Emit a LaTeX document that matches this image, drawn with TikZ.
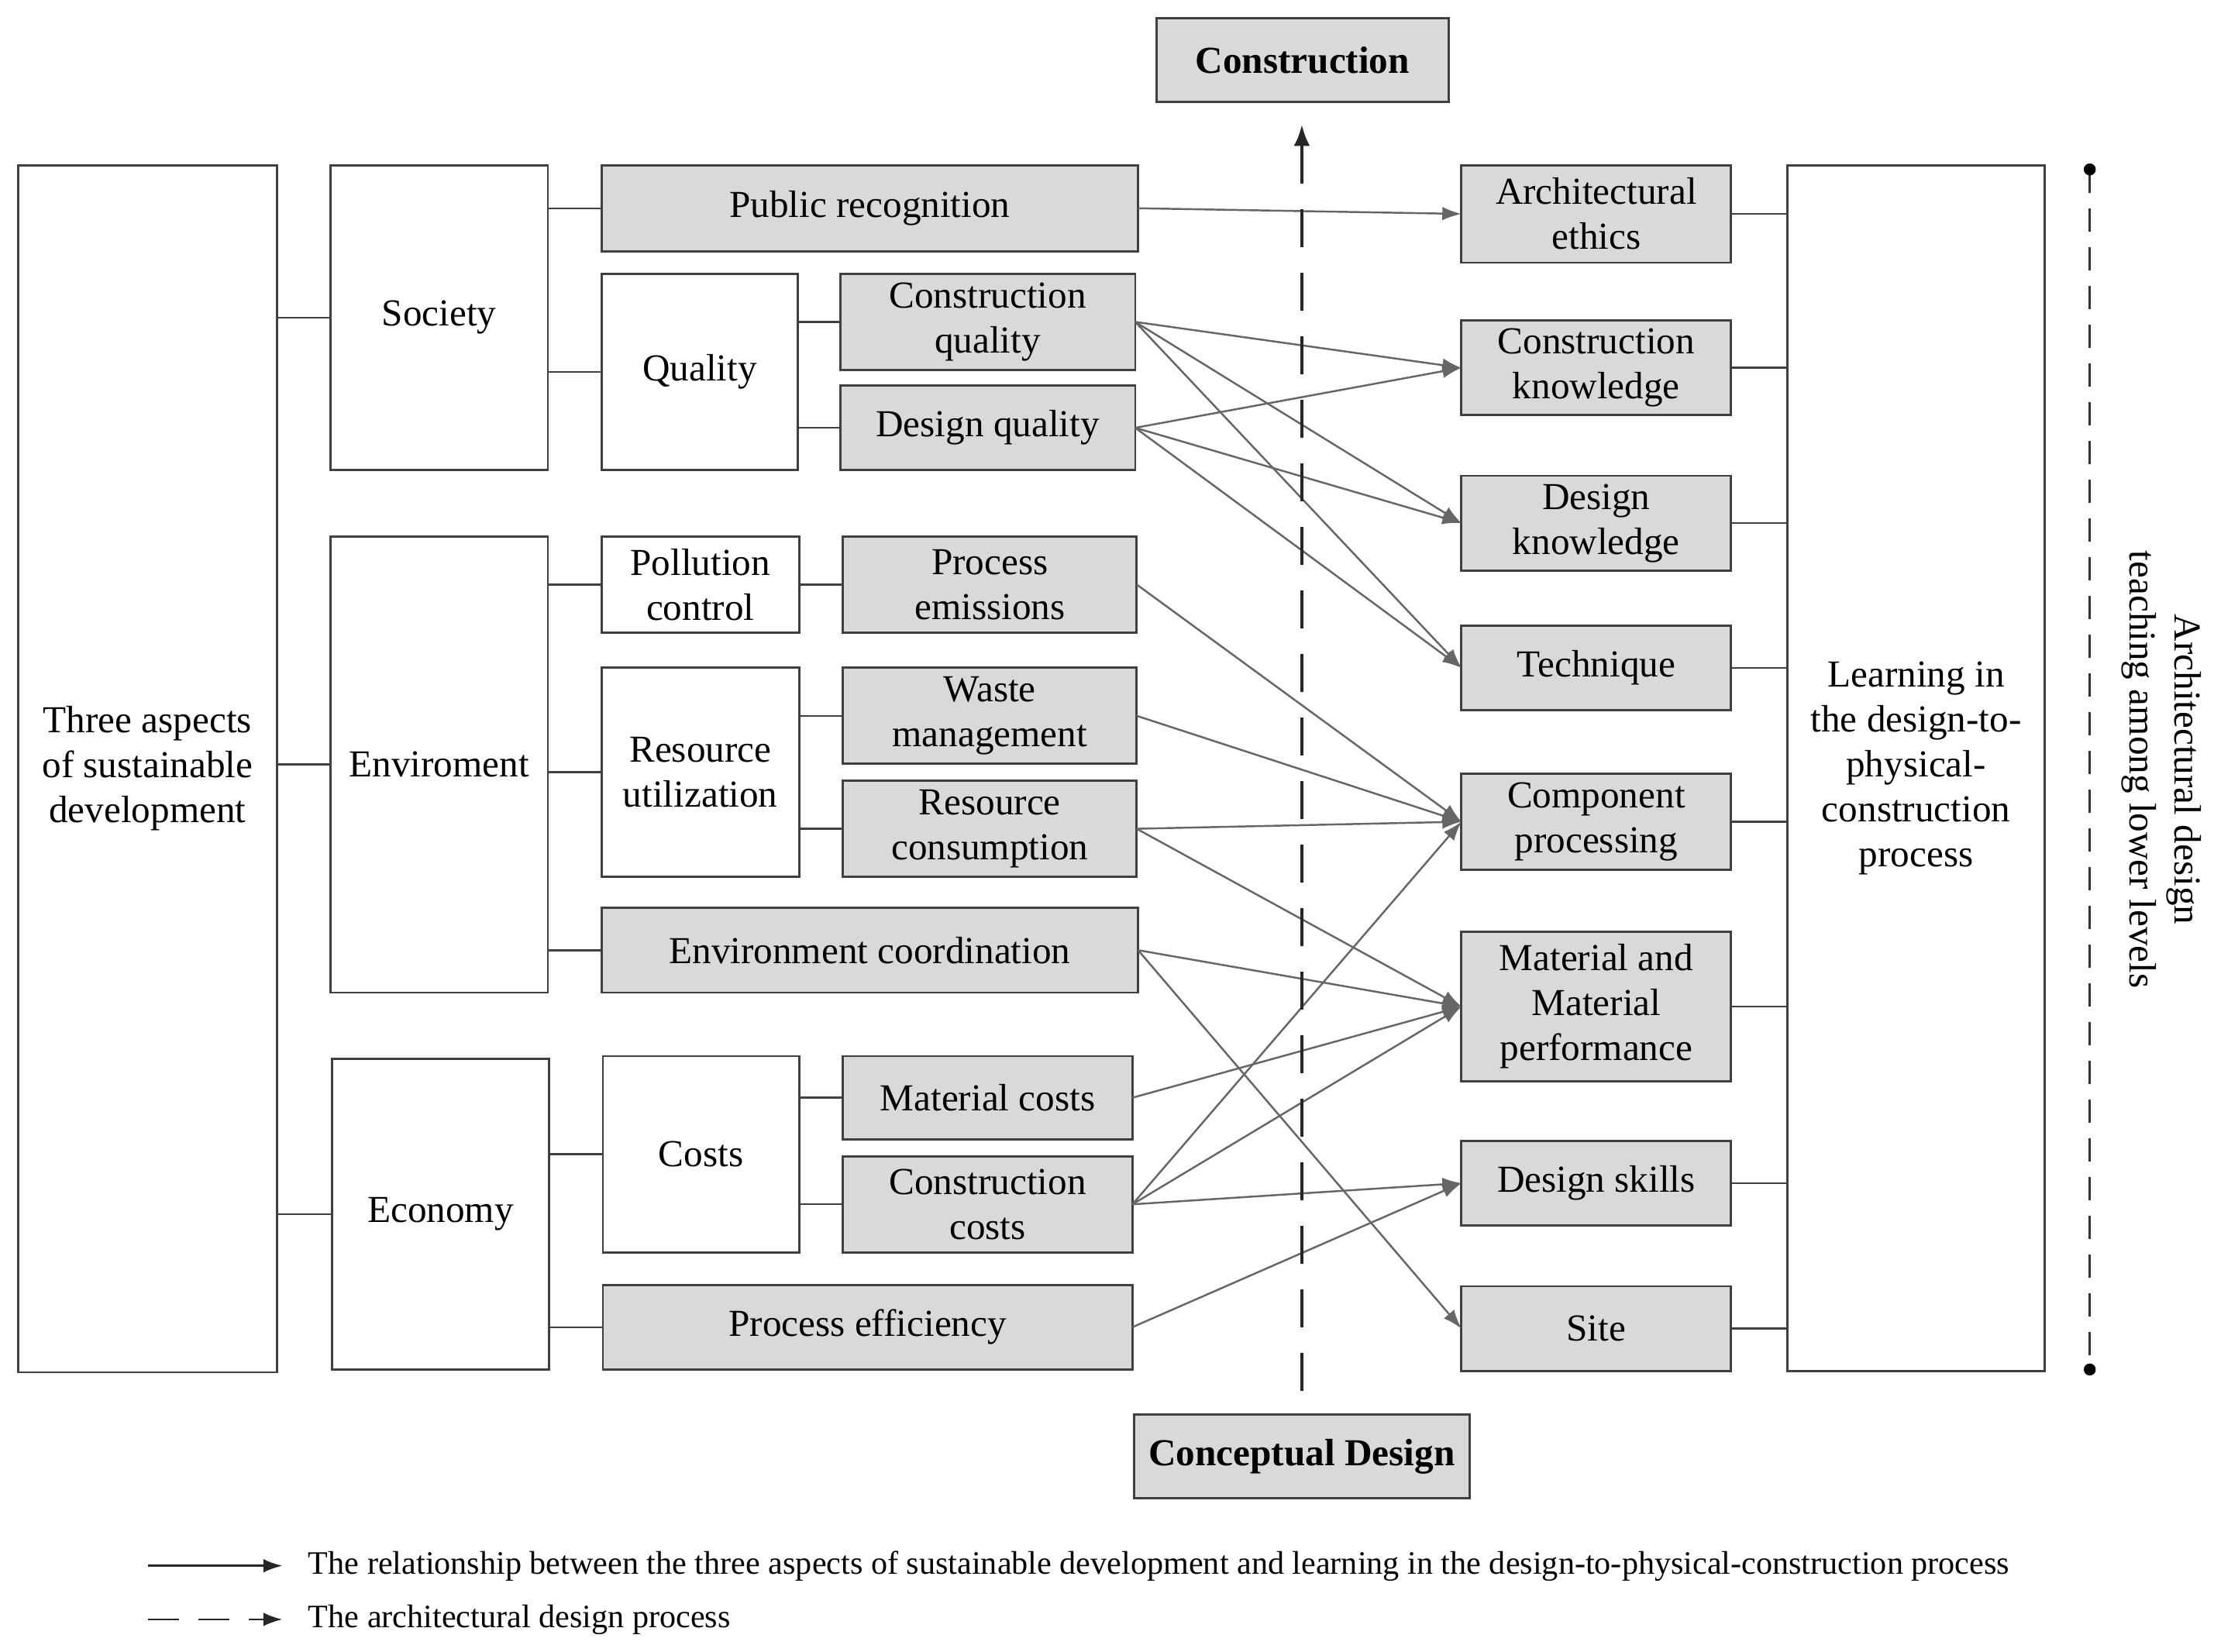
\documentclass[tikz,border=0pt]{standalone}
\usepackage{fontspec}
\setmainfont{Liberation Serif}
\usetikzlibrary{arrows.meta}
\begin{document}
\begin{tikzpicture}[x=0.01822cm,y=-0.01822cm,
  base/.style={draw=black!75,line width=0.8pt,inner sep=0,outer sep=0,align=center,font=\fontsize{14}{16.5}\selectfont},
  wbox/.style={base,fill=white},
  gbox/.style={base,fill=black!15},
  tbox/.style={base,fill=black!15,font=\fontsize{14}{16.5}\selectfont\bfseries},
  tree/.style={draw=black!75,line width=0.7pt},
  rel/.style={draw=black!60,line width=0.7pt,-{Latex[length=7pt,width=5pt]}}]
\newcommand\bx[7]{\node[#2, minimum width={(#5-#3)*0.01822cm}, minimum height={(#6-#4)*0.01822cm}] (#1) at ({(#3+#5)/2},{(#4+#6)/2}) {#7};}
\useasboundingbox[fill=white] (0,0) rectangle (1568,1170);
% left column
\bx{three}{wbox}{13}{117}{196}{972}{Three aspects\\of sustainable\\development}
\bx{soc}{wbox}{234}{117}{388}{333}{Society}
\bx{env}{wbox}{234}{380}{388}{703}{Enviroment}
\bx{eco}{wbox}{235}{750}{389}{970}{Economy}
\bx{pub}{gbox}{426}{117}{806}{178}{Public recognition}
\bx{qual}{wbox}{426}{194}{565}{333}{Quality}
\bx{cq}{gbox}{595}{194}{804}{262}{Construction\\quality}
\bx{dq}{gbox}{595}{273}{804}{333}{Design quality}
\bx{pol}{wbox}{426}{380}{566}{448}{Pollution\\control}
\bx{pe}{gbox}{597}{380}{805}{448}{Process\\emissions}
\bx{ru}{wbox}{426}{473}{566}{621}{Resource\\utilization}
\bx{wm}{gbox}{597}{473}{805}{541}{Waste\\management}
\bx{rc}{gbox}{597}{553}{805}{621}{Resource\\consumption}
\bx{ec}{gbox}{426}{643}{806}{703}{Environment coordination}
\bx{cost}{wbox}{427}{748}{566}{887}{Costs}
\bx{mc}{gbox}{597}{748}{802}{807}{Material costs}
\bx{cc}{gbox}{597}{819}{802}{887}{Construction\\costs}
\bx{pef}{gbox}{427}{910}{802}{970}{Process efficiency}
% titles
\bx{cons}{tbox}{819}{13}{1026}{72}{Construction}
\bx{cd}{tbox}{803}{1002}{1041}{1061}{Conceptual Design}
% right column
\bx{ae}{gbox}{1035}{117}{1226}{186}{Architectural\\ethics}
\bx{ck}{gbox}{1035}{227}{1226}{294}{Construction\\knowledge}
\bx{dk}{gbox}{1035}{337}{1226}{404}{Design\\knowledge}
\bx{tech}{gbox}{1035}{443}{1226}{503}{Technique}
\bx{cp}{gbox}{1035}{548}{1226}{616}{Component\\processing}
\bx{mat}{gbox}{1035}{660}{1226}{766}{Material and\\Material\\performance}
\bx{ds}{gbox}{1035}{808}{1226}{868}{Design skills}
\bx{site}{gbox}{1035}{911}{1226}{971}{Site}
\bx{learn}{wbox}{1266}{117}{1448}{971}{Learning in\\the design-to-\\physical-\\construction\\process}
% tree connectors
\foreach \a/\b in {three/soc,three/env,three/eco,soc/pub,soc/qual,qual/cq,qual/dq,env/pol,env/ru,env/ec,pol/pe,ru/wm,ru/rc,eco/cost,eco/pef,cost/mc,cost/cc}
  \draw[tree] (\a.east |- \b.west) -- (\b.west);
\foreach \a in {ae,ck,dk,tech,cp,mat,ds,site}
  \draw[tree] (\a.east) -- (learn.west |- \a.east);
% relationships
\foreach \a/\b in {pub/ae,cq/ck,cq/dk,cq/tech,dq/ck,dq/dk,dq/tech,pe/cp,wm/cp,rc/cp,rc/mat,ec/mat,ec/site,mc/mat,cc/cp,cc/mat,cc/ds,pef/ds}
  \draw[rel] (\a.east) -- (\b.west);
% design process arrow
\coordinate (pa) at (922,985);
\coordinate (pb) at (922,88);
\draw[black!85,line width=1.4pt,dash pattern=on 0.49cm off 0.33cm,-{Latex[length=8pt,width=6pt]}] (pa) -- (pb);
% right dashed scale
\coordinate (st) at (1480,120);
\coordinate (sb) at (1480,970);
\draw[black!80,line width=0.8pt,dash pattern=on 0.3cm off 0.2cm] (st) -- (sb);
\fill[black] (st) circle (2.2pt) (sb) circle (2.2pt);
\node[rotate=-90,align=center,font=\fontsize{14}{16.5}\selectfont] (lvl) at (1531,545) {Architectural design\\teaching among lower levels};
% legend
\coordinate (l1a) at (105,1109); \coordinate (l1b) at (200,1109);
\coordinate (l2a) at (105,1147); \coordinate (l2b) at (200,1147);
\draw[black!85,line width=0.7pt,-{Latex[length=7pt,width=5pt]}] (l1a) -- (l1b);
\draw[black!85,line width=0.7pt,dash pattern=on 0.4cm off 0.25cm,-{Latex[length=7pt,width=5pt]}] (l2a) -- (l2b);
\node[anchor=west,font=\fontsize{12}{14}\selectfont,inner sep=0] (t1) at (218,1109) {The relationship between the three aspects of sustainable development and learning in the design-to-physical-construction process};
\node[anchor=west,font=\fontsize{12}{14}\selectfont,inner sep=0] (t2) at (218,1147) {The architectural design process};
\end{tikzpicture}
\end{document}
